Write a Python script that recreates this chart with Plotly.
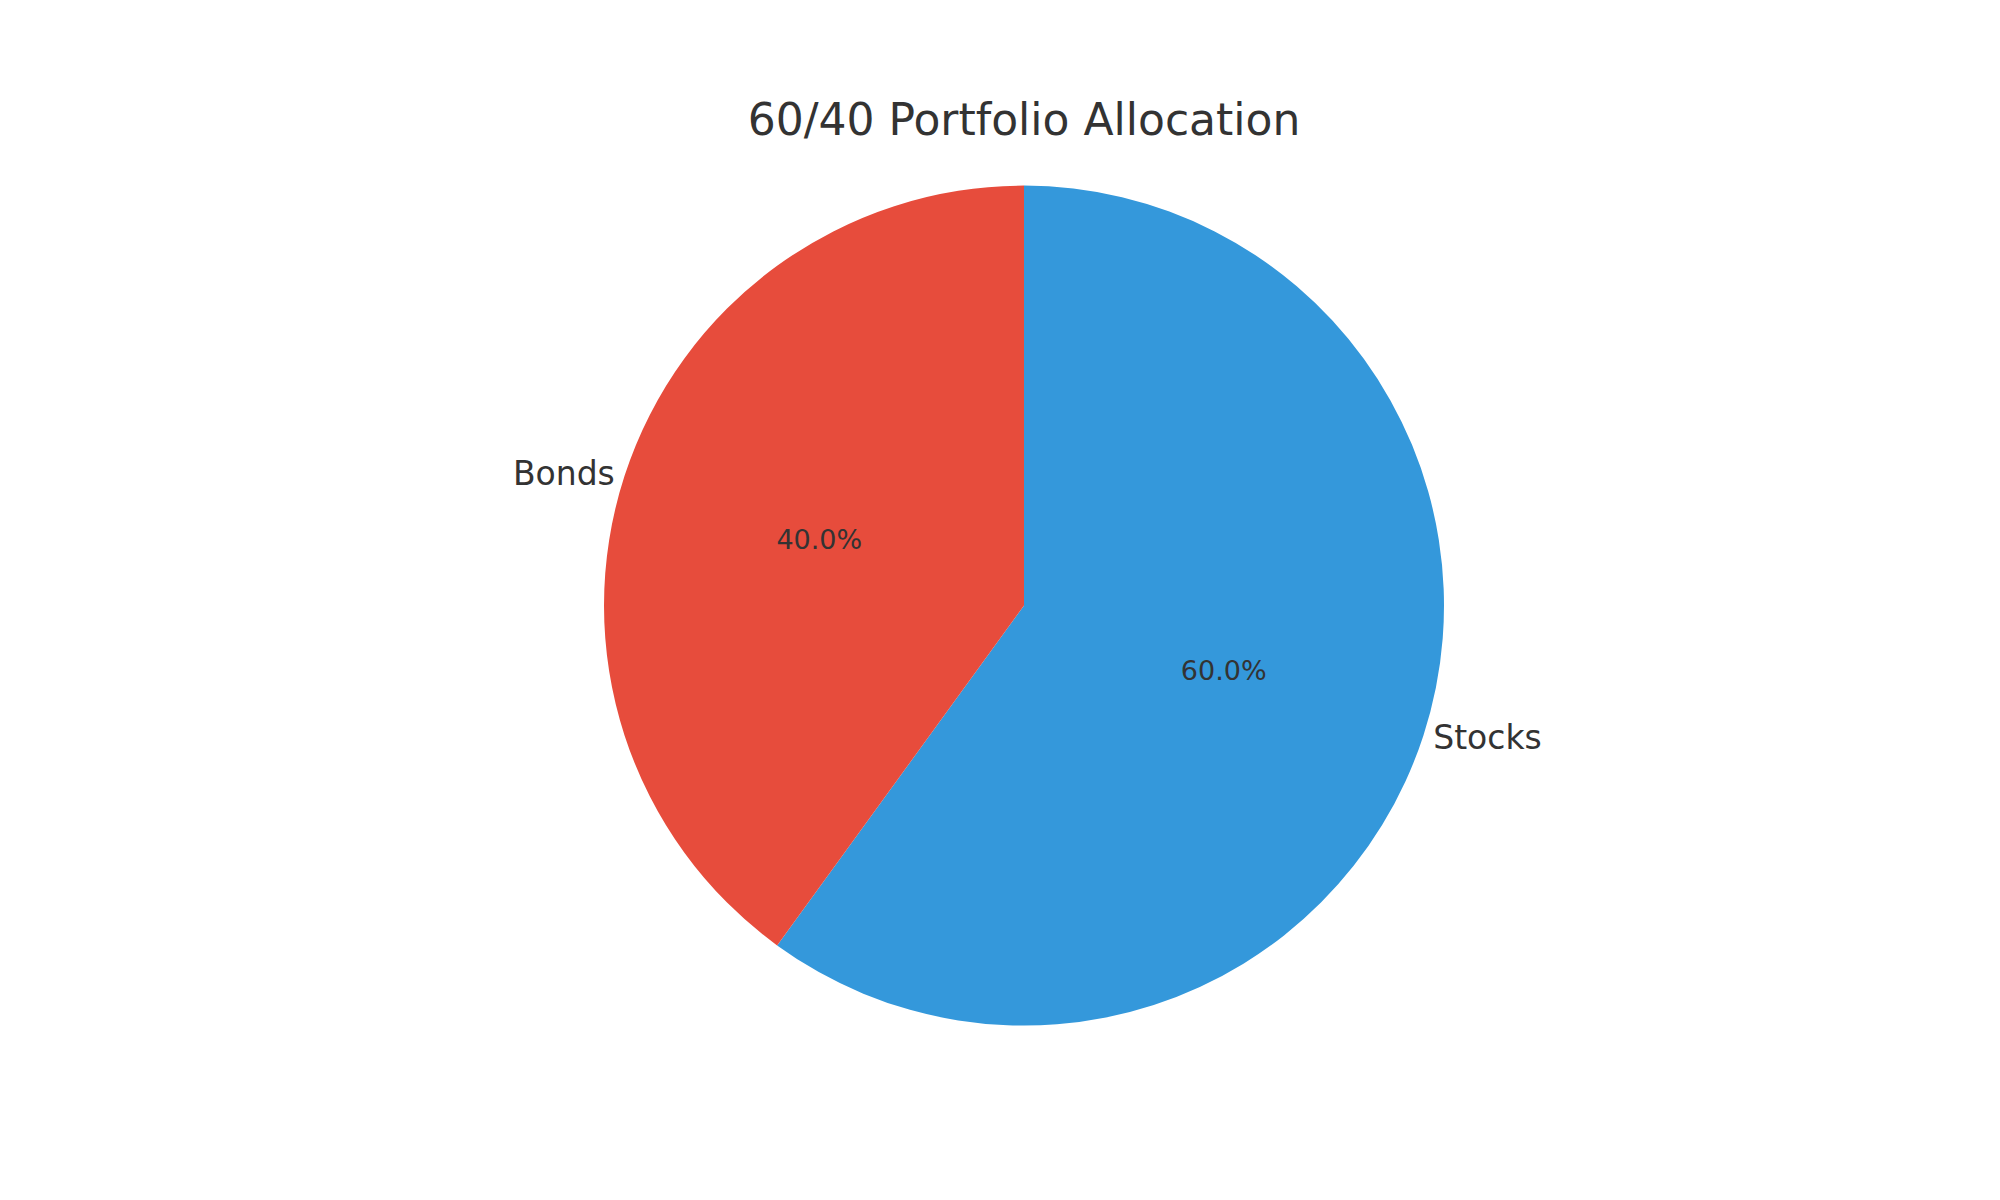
import plotly.graph_objects as go

labels = ['Stocks', 'Bonds']
values = [60, 40]
colors = ['#3498db', '#e74c3c']

dom = dict(x=[0.298, 0.718], y=[0.152, 0.852])

fig = go.Figure()
# slices with percent inside
fig.add_trace(go.Pie(
    labels=labels, values=values, sort=False, direction='clockwise', rotation=0,
    marker=dict(colors=colors), textinfo='percent', texttemplate='%{percent:.1%}',
    textposition='inside', insidetextorientation='horizontal',
    textfont=dict(size=27, color='#333333'), domain=dom, showlegend=False, hoverinfo='skip'))
# transparent copy just for the outside names
fig.add_trace(go.Pie(
    labels=labels, values=values, sort=False, direction='clockwise', rotation=0,
    marker=dict(colors=['rgba(0,0,0,0)'] * 2), textinfo='label', textposition='outside',
    textfont=dict(size=33, color='#333333'), domain=dom, showlegend=False, hoverinfo='skip'))

fig.update_layout(
    width=2000, height=1200, paper_bgcolor='white', plot_bgcolor='white',
    margin=dict(l=0, r=0, t=0, b=0),
    font=dict(family='DejaVu Sans', color='#333333'),
    title=dict(text='60/40 Portfolio Allocation', x=0.508, xanchor='center',
               y=1 - 112 / 1200, yanchor='middle', font=dict(size=44, color='#333333')),
)
fig.write_html("out.html")
